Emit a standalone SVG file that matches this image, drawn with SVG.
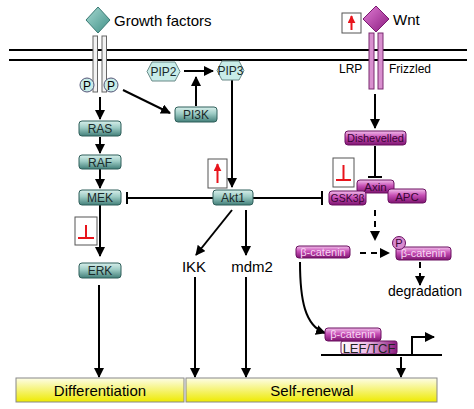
<svg xmlns="http://www.w3.org/2000/svg" width="474" height="409" viewBox="0 0 474 409">
<defs>
<linearGradient id="teal" x1="0" y1="0" x2="0" y2="1">
<stop offset="0" stop-color="#d8efeb"/><stop offset="0.45" stop-color="#9ccbc4"/><stop offset="1" stop-color="#427f79"/>
</linearGradient>
<linearGradient id="mag" x1="0" y1="0" x2="0" y2="1">
<stop offset="0" stop-color="#f2bfeb"/><stop offset="0.45" stop-color="#c74fb6"/><stop offset="1" stop-color="#7e1470"/>
</linearGradient>
<linearGradient id="lef" x1="0" y1="0" x2="1" y2="0">
<stop offset="0" stop-color="#ffffff"/><stop offset="0.45" stop-color="#f0c0ea"/><stop offset="1" stop-color="#8a1a7c"/>
</linearGradient>
<linearGradient id="yel" x1="0" y1="0" x2="0" y2="1">
<stop offset="0" stop-color="#fdfde8"/><stop offset="1" stop-color="#eeea00"/>
</linearGradient>
<linearGradient id="dgf" x1="0" y1="0" x2="1" y2="1">
<stop offset="0" stop-color="#a8dad2"/><stop offset="1" stop-color="#3f8f86"/>
</linearGradient>
<linearGradient id="dwnt" x1="0" y1="0" x2="1" y2="1">
<stop offset="0" stop-color="#e27fd6"/><stop offset="1" stop-color="#8a1a7e"/>
</linearGradient>
<marker id="ah" markerUnits="userSpaceOnUse" markerWidth="10" markerHeight="10" viewBox="0 0 10 10" refX="9" refY="5" orient="auto">
<path d="M0,0 L10,5 L0,10 z" fill="#000"/>
</marker>
<marker id="ahr" markerUnits="userSpaceOnUse" markerWidth="8" markerHeight="8" viewBox="0 0 10 10" refX="9" refY="5" orient="auto">
<path d="M0,0 L10,5 L0,10 z" fill="#e8141c"/>
</marker>
</defs>
<style>
text{font-family:"Liberation Sans",Arial,sans-serif;}
.ln{stroke:#000;stroke-width:2;fill:none;}
.arr{stroke:#000;stroke-width:2;fill:none;marker-end:url(#ah);}
.dash{stroke:#000;stroke-width:2;fill:none;stroke-dasharray:6,5;marker-end:url(#ah);}
.tb{fill:url(#teal);stroke:#2f5f5a;stroke-width:1;}
.mb{fill:url(#mag);stroke:#6a1060;stroke-width:1;}
.tt{font-size:12px;fill:#1a2a2a;text-anchor:middle;}
.mt{font-size:11.5px;fill:#3a0535;text-anchor:middle;}
.bt{font-size:11px;fill:#f7d6f2;text-anchor:middle;}
.lab{font-size:15px;fill:#000;}
.hex{fill:#c8ece8;stroke:#6a8a88;stroke-width:1;}
.rbox{fill:#fff;stroke:#555;stroke-width:1;}
.red{stroke:#e8141c;stroke-width:2;fill:none;}
.out{fill:url(#yel);stroke:#888;stroke-width:1;}
</style>

<g id="membrane">
<line x1="9" y1="50" x2="467" y2="50" class="ln"/>
<line x1="9" y1="60" x2="467" y2="60" class="ln"/>
</g>

<g id="growth-factors">
<path d="M98,7 L110,20 L98,33 L86,20 z" fill="url(#dgf)" stroke="#3a7a74" stroke-width="1"/>
<text x="114" y="26" class="lab" font-size="16">Growth factors</text>
</g>
<g id="gf-receptor">
<rect x="93" y="36" width="4.5" height="56" fill="#f2f2f2" stroke="#666" stroke-width="1"/>
<rect x="102" y="36" width="4.5" height="56" fill="#f2f2f2" stroke="#666" stroke-width="1"/>
<circle cx="87" cy="85" r="7" fill="#c8ece8" stroke="#557" stroke-width="1"/>
<text x="87" y="89.5" font-size="12" text-anchor="middle">P</text>
<circle cx="111" cy="85" r="7" fill="#c8ece8" stroke="#557" stroke-width="1"/>
<text x="111" y="89.5" font-size="12" text-anchor="middle">P</text>
</g>

<g id="wnt">
<rect x="342" y="13" width="19" height="20" class="rbox"/>
<line x1="351.5" y1="30" x2="351.5" y2="16" stroke="#e8141c" stroke-width="2" marker-end="url(#ahr)"/>
<path d="M376,6 L389,19 L376,32 L363,19 z" fill="url(#dwnt)" stroke="#7a1a70" stroke-width="1"/>
<text x="393" y="25" class="lab" font-size="16">Wnt</text>
</g>
<g id="wnt-receptor">
<rect x="369" y="33" width="5" height="56" fill="#d990cf" stroke="#7a2a70" stroke-width="1"/>
<rect x="378" y="33" width="5" height="56" fill="#d990cf" stroke="#7a2a70" stroke-width="1"/>
<text x="339" y="73" font-size="12">LRP</text>
<text x="389" y="73" font-size="12">Frizzled</text>
</g>

<g id="connectors">
<line x1="100" y1="97" x2="100" y2="119" class="arr"/>
<line x1="123" y1="90" x2="170" y2="113" class="arr"/>
<line x1="196" y1="106" x2="196" y2="77" class="arr"/>
<line x1="184" y1="71" x2="213" y2="71" class="arr"/>
<line x1="232" y1="80" x2="232" y2="187" class="arr"/>
<line x1="100" y1="137" x2="100" y2="153" class="arr"/>
<line x1="100" y1="169" x2="100" y2="188" class="arr"/>
<line x1="100" y1="205" x2="100" y2="256" class="arr"/>
<line x1="213" y1="198" x2="127" y2="198" class="ln"/>
<line x1="127" y1="192" x2="127" y2="204" class="ln"/>
<line x1="232" y1="210" x2="196" y2="255" class="arr"/>
<line x1="246" y1="210" x2="246" y2="255" class="arr"/>
<line x1="99" y1="285" x2="99" y2="377" class="arr"/>
<line x1="195" y1="277" x2="195" y2="377" class="arr"/>
<line x1="246" y1="277" x2="246" y2="377" class="arr"/>
<line x1="253" y1="198" x2="322" y2="198" class="ln"/>
<line x1="322" y1="191" x2="322" y2="205" class="ln"/>
<line x1="375" y1="94" x2="375" y2="128" class="arr"/>
<line x1="375" y1="146" x2="375" y2="176" class="ln"/>
<line x1="368" y1="177" x2="382" y2="177" class="ln"/>
<line x1="375" y1="210" x2="375" y2="240" class="dash"/>
<line x1="360" y1="253" x2="389" y2="253" class="dash"/>
<line x1="420" y1="262" x2="420" y2="285" class="dash"/>
<path d="M300,262 C300,300 305,326 325,333" class="arr"/>
<line x1="401" y1="357" x2="401" y2="377" class="arr"/>
</g>

<g id="ras"><rect x="79" y="121" width="42" height="15" rx="3" class="tb"/><text x="100" y="133" class="tt">RAS</text></g>
<g id="raf"><rect x="79" y="155" width="42" height="14" rx="3" class="tb"/><text x="100" y="166.5" class="tt">RAF</text></g>
<g id="mek"><rect x="79" y="190" width="42" height="15" rx="3" class="tb"/><text x="100" y="202" class="tt">MEK</text></g>
<g id="erk"><rect x="79" y="263" width="42" height="15" rx="3" class="tb"/><text x="100" y="275" class="tt">ERK</text></g>
<g id="pi3k"><rect x="175" y="107" width="42" height="15" rx="3" class="tb"/><text x="196" y="119" class="tt">PI3K</text></g>
<g id="akt1"><rect x="213" y="190" width="40" height="15" rx="3" class="tb"/><text x="233" y="202" class="tt">Akt1</text></g>
<g id="akt1-up">
<rect x="208" y="159" width="19" height="29" class="rbox"/>
<line x1="217.5" y1="183" x2="217.5" y2="164" stroke="#e8141c" stroke-width="2" marker-end="url(#ahr)"/>
</g>
<g id="erk-inhib">
<rect x="75" y="217" width="22" height="28" class="rbox"/>
<line x1="86" y1="225" x2="86" y2="238" class="red"/>
<line x1="78" y1="238" x2="94" y2="238" class="red"/>
</g>

<g id="pip2"><path d="M152,62 L175,62 L180,71.5 L175,81 L152,81 L147,71.5 z" class="hex"/><text x="163.5" y="76" font-size="12" text-anchor="middle" fill="#1a2a2a">PIP2</text></g>
<g id="pip3"><path d="M222,61 L239,61 L244,70.5 L239,80 L222,80 L217,70.5 z" class="hex"/><text x="230.5" y="75" font-size="12" text-anchor="middle" fill="#1a2a2a">PIP3</text></g>

<g id="ikk"><text x="194" y="272" class="lab" text-anchor="middle">IKK</text></g>
<g id="mdm2"><text x="252" y="272" class="lab" text-anchor="middle">mdm2</text></g>

<g id="dishevelled"><rect x="345" y="131" width="61" height="14" rx="3" class="mb"/><text x="375.5" y="142" class="mt" textLength="57" lengthAdjust="spacingAndGlyphs">Dishevelled</text></g>
<g id="gsk-inhib">
<rect x="333" y="158" width="21" height="29" class="rbox"/>
<line x1="343.5" y1="165" x2="343.5" y2="180" class="red"/>
<line x1="336" y1="180" x2="351" y2="180" class="red"/>
</g>
<g id="axin"><rect x="357" y="180" width="37" height="13" rx="3" class="mb"/><text x="375.5" y="190.5" class="mt">Axin</text></g>
<g id="gsk3b"><rect x="329" y="191" width="37" height="14" rx="3" class="mb"/><text x="347.5" y="202" class="mt" textLength="34" lengthAdjust="spacingAndGlyphs">GSK3β</text></g>
<g id="apc"><rect x="388" y="189" width="38" height="14" rx="3" class="mb"/><text x="407" y="200.5" class="mt">APC</text></g>

<g id="bcat-left"><rect x="296" y="246" width="54" height="12" rx="3" class="mb"/><text x="323" y="255.5" class="bt">β-catenin</text></g>
<g id="bcat-p">
<rect x="396" y="247" width="55" height="13" rx="3" class="mb"/><text x="423.5" y="257" class="bt">β-catenin</text>
<circle cx="399" cy="243" r="6.5" fill="#d98ad0" stroke="#6a1060" stroke-width="1"/>
<text x="399" y="247" font-size="11" text-anchor="middle" fill="#3a0535">P</text>
</g>
<g id="degradation"><text x="425" y="296" font-size="14" text-anchor="middle">degradation</text></g>

<g id="lef-tcf">
<rect x="341" y="341" width="56" height="13" rx="2" fill="url(#lef)" stroke="#6a1060" stroke-width="1"/>
<text x="369" y="352.5" font-size="13" text-anchor="middle" fill="#222">LEF/TCF</text>
</g>
<g id="bcat-nuc"><rect x="325" y="328" width="56" height="13" rx="3" class="mb"/><text x="353" y="338" class="bt">β-catenin</text></g>
<g id="dna">
<line x1="321" y1="355" x2="442" y2="355" class="ln"/>
<path d="M412,355 L412,337 L434,337" class="arr"/>
</g>

<g id="differentiation"><rect x="16" y="378" width="168" height="24" class="out"/><text x="100" y="396" class="lab" text-anchor="middle">Differentiation</text></g>
<g id="self-renewal"><rect x="186" y="378" width="251" height="24" class="out"/><text x="312" y="396" class="lab" text-anchor="middle">Self-renewal</text></g>
</svg>
